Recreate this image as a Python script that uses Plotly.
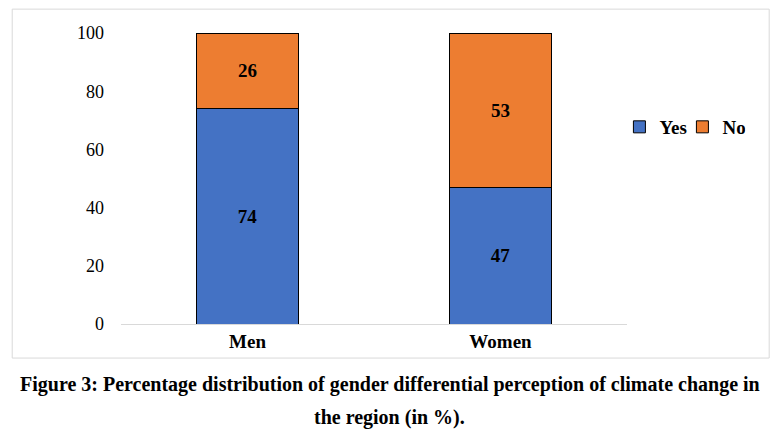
import plotly.graph_objects as go

categories = ["Men", "Women"]
yes_values = [74, 47]
no_values = [26, 53]
y_ticks = [0, 20, 40, 60, 80, 100]

FONT = "Liberation Serif, Times New Roman, serif"
BLUE = "#4472C4"
ORANGE = "#ED7D31"

fig = go.Figure()
fig.add_trace(go.Bar(
    name="Yes", x=categories, y=yes_values,
    marker=dict(color=BLUE, line=dict(color="black", width=1)),
    text=yes_values, textposition="inside", insidetextanchor="middle",
    textfont=dict(family=FONT, size=19, color="black", weight="bold"),
    constraintext="none",
))
fig.add_trace(go.Bar(
    name="No", x=categories, y=no_values,
    marker=dict(color=ORANGE, line=dict(color="black", width=1)),
    text=no_values, textposition="inside", insidetextanchor="middle",
    textfont=dict(family=FONT, size=19, color="black", weight="bold"),
    constraintext="none",
))

fig.update_layout(
    barmode="stack",
    bargap=0.6,
    width=780, height=439,
    margin=dict(l=121, r=153, t=33, b=115),
    paper_bgcolor="white", plot_bgcolor="white",
    font=dict(family=FONT, size=18, color="black"),
    showlegend=True,
    legend=dict(
        orientation="h", x=0.985, xanchor="left", y=0.677, yanchor="middle",
        font=dict(family=FONT, size=19, color="black", weight="bold"),
        itemwidth=30, entrywidth=18, traceorder="normal", itemclick=False,
        bgcolor="rgba(0,0,0,0)",
    ),
    xaxis=dict(
        showgrid=False, showline=True, linecolor="#d9d9d9", linewidth=1,
        ticks="", tickfont=dict(family=FONT, size=19, color="black", weight="bold"),
    ),
    yaxis=dict(
        range=[0, 100], tickvals=y_ticks, showgrid=False, zeroline=False,
        showline=False, ticks="", ticklabelstandoff=16,
        tickfont=dict(family=FONT, size=18, color="black"),
    ),
    shapes=[dict(
        type="rect", xref="paper", yref="paper",
        x0=-0.215, x1=1.281, y0=-0.117, y1=1.082,
        line=dict(color="#d9d9d9", width=1), fillcolor="rgba(0,0,0,0)",
    )],
    annotations=[
        dict(text="Figure 3: Percentage distribution of gender differential perception of climate change in",
             xref="paper", yref="paper", x=0.5316, y=-0.2096, xanchor="center", yanchor="middle",
             showarrow=False, font=dict(family=FONT, size=20, color="black", weight="bold")),
        dict(text="the region (in %).",
             xref="paper", yref="paper", x=0.5316, y=-0.323, xanchor="center", yanchor="middle",
             showarrow=False, font=dict(family=FONT, size=20, color="black", weight="bold")),
    ],
)

fig.write_html("out.html")
